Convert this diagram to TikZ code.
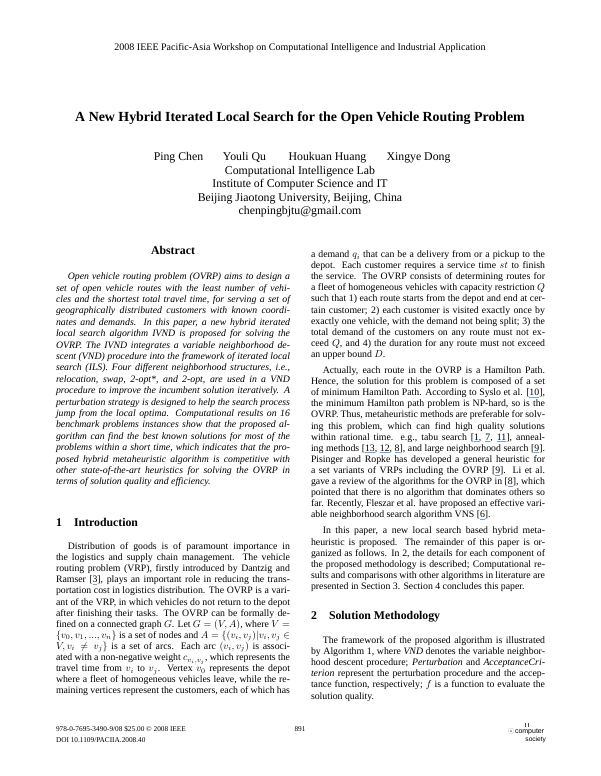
\documentclass[tikz,border=0pt]{standalone}
\usepackage{fontspec}
\setmainfont{Liberation Serif}
\setsansfont{Liberation Sans}
\definecolor{linkblue}{RGB}{110,165,225}
\newlength{\colw}\setlength{\colw}{234pt}
\newlength{\pind}\setlength{\pind}{11.8pt}
% one justified line of a column, and the last line of a paragraph
\newcommand{\jl}[1]{\hbox to\colw{#1}}
\newcommand{\lastln}[1]{\hbox to\colw{#1\hfil}}
\newcommand{\cit}[1]{{\color{linkblue}\underline{\color{black}#1}}}

\begin{document}
\begin{tikzpicture}[x=1pt, y=-1pt,
  every node/.style={inner sep=0pt, outer sep=0pt},
  body/.style={anchor=base west, font=\fontsize{9.8}{11.1}\selectfont},
  abst/.style={anchor=base west, font=\fontsize{9.8}{11.4}\selectfont\itshape},
  sechead/.style={anchor=base west, font=\fontsize{11.8}{14}\selectfont\bfseries},
  auth/.style={anchor=base, font=\fontsize{11.8}{13.6}\selectfont},
  foot/.style={anchor=base west, font=\fontsize{7.3}{9}\selectfont}]
  \fill[white] (0,0) rectangle (600,776);
  \useasboundingbox (0,0) rectangle (600,776);

  % header and title
  \node[anchor=base, font=\fontsize{10}{12}\selectfont] (header) at (300,50.5)
    {2008 IEEE Pacific-Asia Workshop on Computational Intelligence and Industrial Application};
  \node[anchor=base, font=\fontsize{13.9}{16}\selectfont\bfseries] (title) at (300,121)
    {A New Hybrid Iterated Local Search for the Open Vehicle Routing Problem};

  % authors
  \foreach \name/\x [count=\i] in {Ping Chen/178.5, Youli Qu/244.5, Houkuan Huang/327.5, Xingye Dong/418.5}
    \node[auth] (author\i) at (\x,160.5) {\name};
  \foreach \txt/\y [count=\i] in {Computational Intelligence Lab/174.1,
      Institute of Computer Science and IT/187.7,
      {Beijing Jiaotong University, Beijing, China}/201.3,
      chenpingbjtu@gmail.com/214.9}
    \node[auth] (aff\i) at (300,\y) {\txt};

  % left column
  \node[anchor=base, font=\fontsize{11.8}{14}\selectfont\bfseries] (abshead) at (173,254) {Abstract};
  \node[abst] (abstext) at (56,279.7) {\parbox[t]{\colw}{%
\jl{\hskip\pind Open vehicle routing problem (OVRP) aims to design a}
\jl{set of open vehicle routes with the least number of vehi-}
\jl{cles and the shortest total travel time, for serving a set of}
\jl{geographically distributed customers with known coordi-}
\jl{nates and demands. In this paper, a new hybrid iterated}
\jl{local search algorithm IVND is proposed for solving the}
\jl{OVRP. The IVND integrates a variable neighborhood de-}
\jl{scent (VND) procedure into the framework of iterated local}
\jl{search (ILS). Four different neighborhood structures, i.e.,}
\jl{relocation, swap, 2-opt*, and 2-opt, are used in a VND}
\jl{procedure to improve the incumbent solution iteratively. A}
\jl{perturbation strategy is designed to help the search process}
\jl{jump from the local optima. Computational results on 16}
\jl{benchmark problems instances show that the proposed al-}
\jl{gorithm can find the best known solutions for most of the}
\jl{problems within a short time, which indicates that the pro-}
\jl{posed hybrid metaheuristic algorithm is competitive with}
\jl{other state-of-the-art heuristics for solving the OVRP in}
\lastln{terms of solution quality and efficiency.}}};

  \node[sechead] (sec1num) at (56,526.5) {1};
  \node[sechead] (sec1title) at (74,526.5) {Introduction};
  \node[body] (intro) at (56,549.5) {\parbox[t]{\colw}{%
\jl{\hskip\pind Distribution of goods is of paramount importance in}
\jl{the logistics and supply chain management. The vehicle}
\jl{routing problem (VRP), firstly introduced by Dantzig and}
\jl{Ramser [\cit{3}], plays an important role in reducing the trans-}
\jl{portation cost in logistics distribution. The OVRP is a vari-}
\jl{ant of the VRP, in which vehicles do not return to the depot}
\jl{after finishing their tasks. The OVRP can be formally de-}
\jl{fined on a connected graph $G$. Let $G = (V, A)$, where $V =$}
\jl{$\{v_0, v_1, ..., v_n\}$ is a set of nodes and $A = \{(v_i, v_j)|v_i, v_j \in$}
\jl{$V, v_i \neq v_j\}$ is a set of arcs. Each arc $(v_i, v_j)$ is associ-}
\jl{ated with a non-negative weight $c_{v_i,v_j}$, which represents the}
\jl{travel time from $v_i$ to $v_j$. Vertex $v_0$ represents the depot}
\jl{where a fleet of homogeneous vehicles leave, while the re-}
\jl{maining vertices represent the customers, each of which has}}};

  % right column
  \node[body] (rpara1) at (311,257.5) {\parbox[t]{\colw}{%
\jl{a demand $q_i$ that can be a delivery from or a pickup to the}
\jl{depot. Each customer requires a service time $st$ to finish}
\jl{the service. The OVRP consists of determining routes for}
\jl{a fleet of homogeneous vehicles with capacity restriction $Q$}
\jl{such that 1) each route starts from the depot and end at cer-}
\jl{tain customer; 2) each customer is visited exactly once by}
\jl{exactly one vehicle, with the demand not being split; 3) the}
\jl{total demand of the customers on any route must not ex-}
\jl{ceed $Q$, and 4) the duration for any route must not exceed}
\lastln{an upper bound $D$.}}};
  \node[body] (rpara2) at (311,373.5) {\parbox[t]{\colw}{%
\jl{\hskip\pind Actually, each route in the OVRP is a Hamilton Path.}
\jl{Hence, the solution for this problem is composed of a set}
\jl{of minimum Hamilton Path. According to Syslo et al. [\cit{10}],}
\jl{the minimum Hamilton path problem is NP-hard, so is the}
\jl{OVRP. Thus, metaheuristic methods are preferable for solv-}
\jl{ing this problem, which can find high quality solutions}
\jl{within rational time. e.g., tabu search [\cit{1}, \cit{7}, \cit{11}], anneal-}
\jl{ing methods [\cit{13}, \cit{12}, \cit{8}], and large neighborhood search [\cit{9}].}
\jl{Pisinger and Ropke has developed a general heuristic for}
\jl{a set variants of VRPs including the OVRP [\cit{9}]. Li et al.}
\jl{gave a review of the algorithms for the OVRP in [\cit{8}], which}
\jl{pointed that there is no algorithm that dominates others so}
\jl{far. Recently, Fleszar et al. have proposed an effective vari-}
\lastln{able neighborhood search algorithm VNS [\cit{6}].}}};
  \node[body] (rpara3) at (311,533.9) {\parbox[t]{\colw}{%
\jl{\hskip\pind In this paper, a new local search based hybrid meta-}
\jl{heuristic is proposed. The remainder of this paper is or-}
\jl{ganized as follows. In 2, the details for each component of}
\jl{the proposed methodology is described; Computational re-}
\jl{sults and comparisons with other algorithms in literature are}
\lastln{presented in Section 3. Section 4 concludes this paper.}}};

  \node[sechead] (sec2num) at (311,619.5) {2};
  \node[sechead] (sec2title) at (329,619.5) {Solution Methodology};
  \node[body] (rpara4) at (311,643.5) {\parbox[t]{\colw}{%
\jl{\hskip\pind The framework of the proposed algorithm is illustrated}
\jl{by Algorithm 1, where \textit{VND} denotes the variable neighbor-}
\jl{hood descent procedure; \textit{Perturbation} and \textit{AcceptanceCri-}}
\jl{\textit{terion} represent the perturbation procedure and the accep-}
\jl{tance function, respectively; $f$ is a function to evaluate the}
\lastln{solution quality.}}};

  % footer
  \node[foot] (isbn) at (56,731.5) {978-0-7695-3490-9/08 \$25.00 © 2008 IEEE};
  \node[foot] (doi) at (56,742) {DOI 10.1109/PACIIA.2008.40};
  \node[foot, anchor=base] (pagenum) at (300,731.5) {891};
  \draw[gray, densely dotted] (511,731) circle (3);
  \fill[gray] (511,731) circle (1);
  \draw[black!70, line width=0.5pt] (525,722.5) -- (525,726.5) (528,722.5) -- (528,726.5);
  \node[anchor=base west, font=\sffamily\fontsize{7}{8}\selectfont] (csname) at (515,733) {computer};
  \node[anchor=base east, font=\sffamily\fontsize{6.6}{7}\selectfont] (cssoc) at (546,741) {society};
\end{tikzpicture}
\end{document}
